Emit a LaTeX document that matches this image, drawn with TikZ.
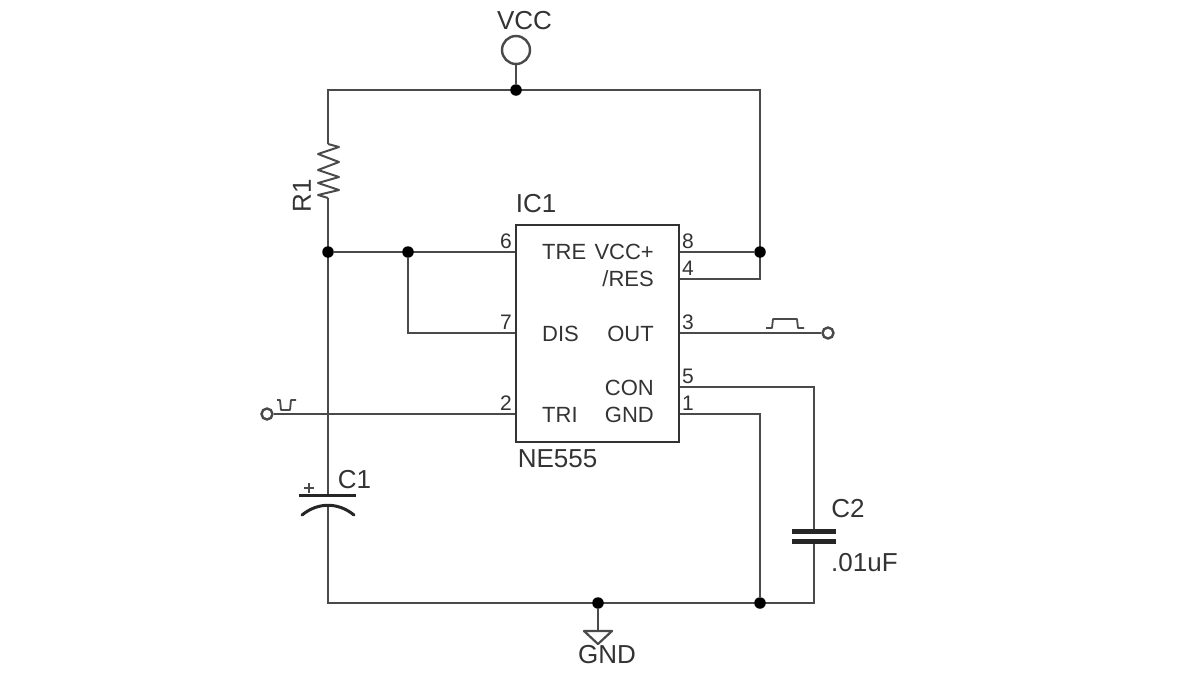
\documentclass[tikz,border=0pt]{standalone}
\usepackage{fontspec}
\usetikzlibrary{backgrounds}
\setmainfont{Liberation Sans}
\definecolor{wirec}{HTML}{4A4A4A}
\definecolor{textc}{HTML}{333333}
\tikzset{
  wire/.style={draw=wirec,line width=2.4pt},
  junction/.style={circle,fill=black,inner sep=0pt,minimum size=11.5pt},
  port/.style={circle,draw=wirec,fill=white,line width=2.4pt,inner sep=0pt,minimum size=11pt},
  biglab/.style={text=textc,inner sep=0pt,font=\fontsize{26}{26}\selectfont},
  midlab/.style={text=textc,inner sep=0pt,font=\fontsize{22}{22}\selectfont},
  pinlab/.style={text=textc,inner sep=0pt,font=\fontsize{21}{21}\selectfont},
  plate/.style={draw=black!85,line width=5pt},
  thinplate/.style={draw=black!85,line width=3pt},
  icbox/.style={draw=black!80,line width=2.8pt,inner sep=0pt,minimum width=163pt,minimum height=217pt}
}
\begin{document}
\begin{tikzpicture}[x=1pt,y=-1pt]
\useasboundingbox (0,0) rectangle (1200,675);
% named points
\coordinate (tl) at (328,90);
\coordinate (tr) at (760,90);
\coordinate (r1top) at (328,144);
\coordinate (r1bot) at (328,198);
\coordinate (bl) at (328,603);
\coordinate (br) at (814,603);
\coordinate (c1top) at (328,495);
\coordinate (c1bot) at (328,505);
\coordinate (c2top) at (814,531);
\coordinate (c2bot) at (814,541);
\coordinate (c2corner) at (814,387);
\coordinate (p6) at (516,252);
\coordinate (p7) at (516,333);
\coordinate (p2) at (516,414);
\coordinate (p8) at (679,252);
\coordinate (p4) at (679,279);
\coordinate (p3) at (679,333);
\coordinate (p5) at (679,387);
\coordinate (p1) at (679,414);
\coordinate (j4) at (760,279);
\coordinate (g1) at (760,414);
\coordinate (gtip) at (598,630);
% IC
\node[icbox] (ic) at (597.5,333.5) {};
% nodes
\node[port,minimum size=28pt] (vcc) at (516,50) {};
\node[port] (outp) at (828,333) {};
\node[port] (trigp) at (267,414) {};
\node[junction] (jtop) at (516,90) {};
\node[junction] (j6a) at (328,252) {};
\node[junction] (j6b) at (408,252) {};
\node[junction] (j8) at (760,252) {};
\node[junction] (jb1) at (598,603) {};
\node[junction] (jb2) at (760,603) {};
% wires, under the junction dots
\begin{scope}[on background layer]
\draw[wire] (r1top) -- (tl) -- (tr) -- (j4) -- (p4);
\draw[wire] (vcc) -- (jtop);
\draw[wire] (p8) -- (j8);
\draw[wire] (r1bot) -- (c1top);
\draw[wire] (j6a) -- (p6);
\draw[wire] (j6b) |- (p7);
\draw[wire] (trigp) -- (p2);
\draw[wire] (p3) -- (outp);
\draw[wire] (p5) -- (c2corner) -- (c2top);
\draw[wire] (c2bot) -- (br) -- (bl) -- (c1bot);
\draw[wire] (p1) -- (g1) -- (jb2);
\draw[wire] (jb1) -- (gtip);
\end{scope}
% resistor
\draw[wire,line width=2pt,line join=round] (r1top) -- (339,147) -- (318,154) -- (339,162) -- (318,170) -- (339,177) -- (318,183) -- (339,190) -- (318,195) -- (r1bot);
% C1
\draw[thinplate] (299,495) -- (356,495);
\draw[thinplate,line cap=round] (302,515) .. controls (318,502) and (338,502) .. (354,515);
\draw[draw=wirec,line width=1.6pt] (304,488) -- (314,488) (309,483) -- (309,493);
% C2
\draw[plate] (792,531) -- (836,531);
\draw[plate] (792,541) -- (836,541);
% ground
\draw[draw=wirec,line width=2.2pt,line join=round] (584,631) -- (612,631) -- (598,644) -- cycle;
% pulses
\draw[draw=wirec,line width=1.8pt,line join=round] (766,328) -- (772,328) -- (773,319) -- (797,319) -- (798,328) -- (804,328);
\draw[draw=wirec,line width=1.8pt,line join=round] (277,400) -- (280,400) -- (281,410) -- (290,410) -- (291,400) -- (296,400);
% labels
\node[biglab] (lvcc) at (524.5,21) {VCC};
\node[biglab,rotate=90] (lr1) at (302,196) {R1};
\node[biglab] (lic1) at (536,204) {IC1};
\node[biglab] (lne) at (557.5,459) {NE555};
\node[biglab] (lc1) at (354.5,480) {C1};
\node[biglab] (lc2) at (848,509) {C2};
\node[biglab,anchor=west] (lc2v) at (831,563) {.01uF};
\node[biglab] (lgnd) at (607,655) {GND};
\node[midlab,anchor=west] (ltre) at (542,252) {TRE};
\node[midlab,anchor=west] (ldis) at (542,334) {DIS};
\node[midlab,anchor=west] (ltri) at (542,415) {TRI};
\node[midlab,anchor=east] (lvp) at (654,252) {VCC+};
\node[midlab,anchor=east] (lres) at (654,279) {/RES};
\node[midlab,anchor=east] (lout) at (654,334) {OUT};
\node[midlab,anchor=east] (lcon) at (654,388) {CON};
\node[midlab,anchor=east] (lgn) at (654,415) {GND};
\node[pinlab] (n6) at (506,241) {6};
\node[pinlab] (n7) at (506,322) {7};
\node[pinlab] (n2) at (506,403) {2};
\node[pinlab] (n8) at (688,241) {8};
\node[pinlab] (n4) at (688,268) {4};
\node[pinlab] (n3) at (688,322) {3};
\node[pinlab] (n5) at (688,376) {5};
\node[pinlab] (n1) at (688,403) {1};
\end{tikzpicture}
\end{document}
